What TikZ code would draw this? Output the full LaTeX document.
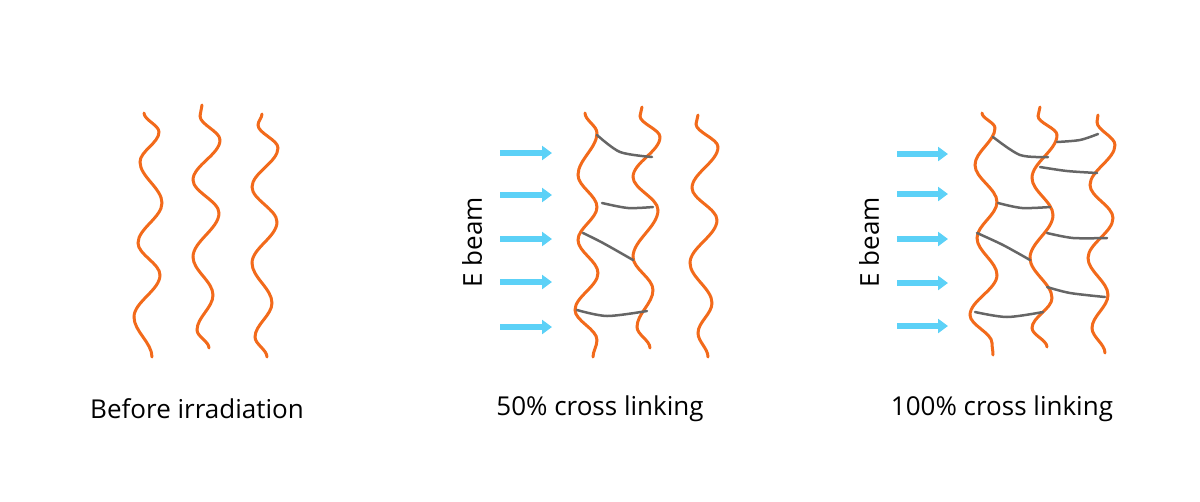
\documentclass[tikz,border=0pt]{standalone}
\usepackage{fontspec}
\setmainfont{Open Sans}
\usetikzlibrary{arrows.meta}
\definecolor{chainc}{HTML}{F26A1B}
\definecolor{linkc}{HTML}{666666}
\definecolor{beamc}{HTML}{5CD1F7}
\tikzset{
  chain/.style={draw=chainc, line width=3pt, line cap=round, line join=round},
  xlink/.style={draw=linkc, line width=2.5pt, line cap=round},
  beamarrow/.style={draw=beamc, line width=6.5pt, -{Triangle[length=10pt,width=14pt]}},
  lbl/.style={font=\fontsize{26}{30}\selectfont, text=black, inner sep=0pt},
}
% a polymer chain: sine-like arcs between successive extreme points
\newcommand\polychain[1]{%
  \foreach \qx/\qy [remember=\qx as \px (initially 0), remember=\qy as \py (initially 0), count=\qi] in {#1}{%
    \ifnum\qi>1
      \pgfmathsetmacro\ca{\py+0.36*(\qy-\py)}%
      \pgfmathsetmacro\cb{\qy-0.36*(\qy-\py)}%
      \draw[chain] (\px,\py) .. controls (\px,\ca) and (\qx,\cb) .. (\qx,\qy);
    \fi
  }%
}
\begin{document}
\begin{tikzpicture}[x=1pt,y=-1pt]
\useasboundingbox (0,0) rectangle (1200,501);
% Panel 1
\polychain{144/113, 159/132, 140/162, 162/203, 138/243, 160/275, 134/317, 152/357}
\polychain{202/105, 200/116, 220/140, 193/180, 219/213, 193/257, 213/295, 197/330, 209/348}
\polychain{262/114, 258/125, 278/148, 252/187, 277/222, 252/263, 272/303, 255/337, 267/357}
\node[lbl] (l1) at (197,409) {Before irradiation};
% Panel 2
\polychain{585/113, 597/133, 578/175, 597/207, 578/240, 598/273, 575/310, 597/340, 593/357}
\polychain{642/107, 640/116, 660/137, 633/177, 658/210, 633/257, 653/290, 637/327, 650/348}
\polychain{698/115, 696/124, 718/147, 692/188, 717/220, 690/263, 712/303, 698/333, 708/357}
\draw[xlink] plot[smooth] coordinates {(597,135) (620,152) (652,157)};
\draw[xlink] plot[smooth] coordinates {(602,203) (628,208) (653,207)};
\draw[xlink] plot[smooth] coordinates {(583,233) (603,243) (633,260)};
\draw[xlink] plot[smooth] coordinates {(577,310) (607,316) (647,311)};
\foreach \y [count=\i] in {153,195,239,282,327}{
  \coordinate (a\i) at (500,\y);
  \coordinate (b\i) at (552,\y);
  \draw[beamarrow] (a\i) -- (b\i);
}
\node[lbl, rotate=90] (e1) at (472,242) {E beam};
\node[lbl] (l2) at (600,409) {50\% cross linking};
% Panel 3
\polychain{982/113, 995/128, 975/165, 997/202, 977/238, 997/275, 970/315, 992/343, 993/355}
\polychain{1040/107, 1038/116, 1057/135, 1032/178, 1053/215, 1030/258, 1052/298, 1032/328, 1047/347}
\polychain{1098/115, 1097/122, 1115/145, 1090/185, 1113/218, 1088/258, 1108/295, 1092/328, 1105/353}
\draw[xlink] plot[smooth] coordinates {(993,137) (1020,155) (1048,157)};
\draw[xlink] plot[smooth] coordinates {(1057,142) (1080,140) (1098,134)};
\draw[xlink] plot[smooth] coordinates {(1040,167) (1067,171) (1097,173)};
\draw[xlink] plot[smooth] coordinates {(998,203) (1022,208) (1050,207)};
\draw[xlink] plot[smooth] coordinates {(977,233) (1003,245) (1030,260)};
\draw[xlink] plot[smooth] coordinates {(1047,233) (1073,238) (1107,238)};
\draw[xlink] plot[smooth] coordinates {(1047,287) (1070,293) (1105,297)};
\draw[xlink] plot[smooth] coordinates {(975,312) (1007,317) (1043,312)};
\foreach \y [count=\i] in {154,194,239,283,326}{
  \coordinate (c\i) at (897,\y);
  \coordinate (d\i) at (948,\y);
  \draw[beamarrow] (c\i) -- (d\i);
}
\node[lbl, rotate=90] (e2) at (869,242) {E beam};
\node[lbl] (l3) at (1002,409) {100\% cross linking};
\end{tikzpicture}
\end{document}
